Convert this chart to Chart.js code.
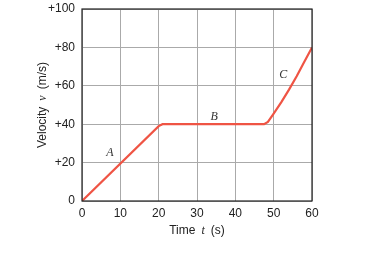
<!DOCTYPE html>
<html>
<head>
<meta charset="utf-8">
<script src="https://cdn.jsdelivr.net/npm/chart.js@4"></script>
<style>
  html, body { margin: 0; padding: 0; background: #fff; }
  #wrap { width: 388px; height: 257px; position: relative; }
</style>
</head>
<body>
<div id="wrap"><canvas id="chart"></canvas></div>
<script>
// velocity vs time
const timeS = [0, 20, 21, 47.5, 48.5, 50, 52, 54, 56, 58, 60];
const velocity = [0, 39, 40, 40, 41.2, 45.5, 51.5, 58, 65, 72.5, 80];

// segment labels (name, t, v)
const segNames = ["A", "B", "C"];
const segT = [7.3, 34.5, 52.5];
const segV = [25, 44, 65.5];

const xTitle = ["Time", "t", "(s)"];
const yTitle = ["Velocity", "v", "(m/s)"];

const points = timeS.map((t, i) => ({ x: t, y: velocity[i] }));

const sans = "'Liberation Sans', Arial, sans-serif";
const serifIt = "italic 12px 'Liberation Serif', 'Times New Roman', serif";

// draws the frame, segment letters and the axis titles (mixed fonts)
const extras = {
    id: "extras",
    afterDraw(chart) {
        const ctx = chart.ctx;
        const a = chart.chartArea;
        const xs = chart.scales.x;
        const ys = chart.scales.y;

        ctx.save();
        ctx.strokeStyle = "#222";
        ctx.lineWidth = 1.2;
        ctx.strokeRect(a.left, a.top, a.right - a.left, a.bottom - a.top);

        ctx.fillStyle = "#333";
        ctx.font = serifIt;
        ctx.textAlign = "center";
        ctx.textBaseline = "middle";
        segNames.forEach((n, i) => {
            ctx.fillText(n, xs.getPixelForValue(segT[i]), ys.getPixelForValue(segV[i]));
        });

        function titleRow(parts, cx, cy) {
            const gap = 6;
            ctx.font = "12px " + sans;
            const w0 = ctx.measureText(parts[0]).width;
            const w2 = ctx.measureText(parts[2]).width;
            ctx.font = serifIt;
            const w1 = ctx.measureText(parts[1]).width;
            let x = cx - (w0 + w1 + w2 + 2 * gap) / 2;
            ctx.textAlign = "left";
            ctx.textBaseline = "middle";
            ctx.fillStyle = "#222";
            ctx.font = "12px " + sans;
            ctx.fillText(parts[0], x, cy);
            x += w0 + gap;
            ctx.font = serifIt;
            ctx.fillText(parts[1], x, cy);
            x += w1 + gap;
            ctx.font = "12px " + sans;
            ctx.fillText(parts[2], x, cy);
        }

        titleRow(xTitle, (a.left + a.right) / 2, 231);

        ctx.translate(43, (a.top + a.bottom) / 2);
        ctx.rotate(-Math.PI / 2);
        titleRow(yTitle, 0, 0);
        ctx.restore();
    }
};

new Chart(document.getElementById("chart"), {
    type: "scatter",
    data: {
        datasets: [{
            data: points,
            showLine: true,
            borderColor: "#ef5444",
            borderWidth: 2.2,
            pointRadius: 0,
            tension: 0
        }]
    },
    options: {
        responsive: true,
        maintainAspectRatio: false,
        animation: false,
        layout: { padding: { left: 0, right: 76, top: 9, bottom: 0 } },
        plugins: {
            legend: { display: false },
            tooltip: { enabled: false }
        },
        scales: {
            x: {
                type: "linear",
                min: 0,
                max: 60,
                afterFit(s) { s.height = 56; s.paddingLeft = 0; s.paddingRight = 0; },
                grid: { color: "#aaaaaa", lineWidth: 1, drawTicks: false },
                border: { display: false },
                ticks: {
                    stepSize: 10,
                    padding: 5,
                    color: "#222",
                    font: { family: sans, size: 12 }
                }
            },
            y: {
                min: 0,
                max: 100,
                afterFit(s) { s.width = 82; s.paddingTop = 0; s.paddingBottom = 0; },
                grid: { color: "#aaaaaa", lineWidth: 1, drawTicks: false },
                border: { display: false },
                ticks: {
                    stepSize: 20,
                    padding: 7,
                    color: "#222",
                    font: { family: sans, size: 12 },
                    callback: v => (v === 0 ? "0" : "+" + v)
                }
            }
        }
    },
    plugins: [extras]
});
</script>
</body>
</html>
